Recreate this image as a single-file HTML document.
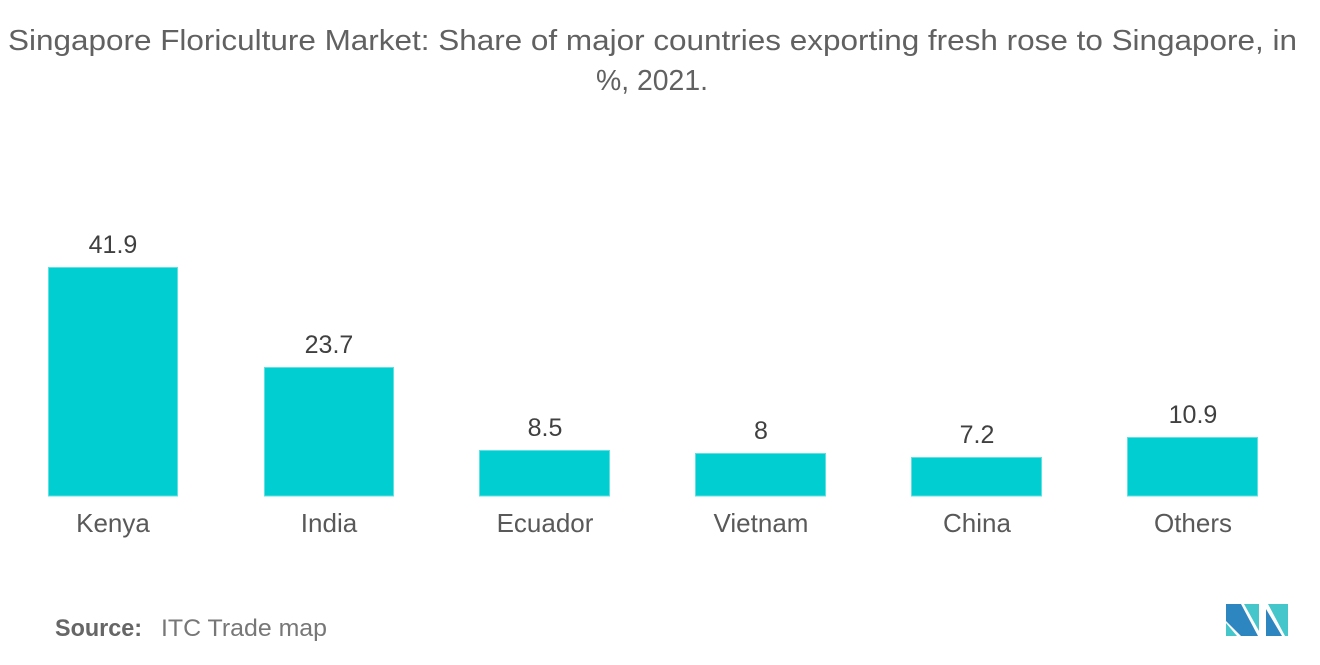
<!DOCTYPE html>
<html>
<head>
<meta charset="utf-8">
<style>
  html, body { margin: 0; padding: 0; background: #ffffff; }
  svg { display: block; }
  text { font-family: "Liberation Sans", Arial, sans-serif; }
</style>
</head>
<body>
<svg width="1320" height="665" viewBox="0 0 1320 665" xmlns="http://www.w3.org/2000/svg">
  <rect x="0" y="0" width="1320" height="665" fill="#ffffff"/>

  <!-- Title -->
  <text x="8" y="50" font-size="29" fill="#616161" textLength="1289" lengthAdjust="spacingAndGlyphs">Singapore Floriculture Market: Share of major countries exporting fresh rose to Singapore, in</text>
  <text x="596" y="90" font-size="29" fill="#616161" textLength="112" lengthAdjust="spacingAndGlyphs">%, 2021.</text>

  <!-- Bars -->
  <g fill="#00CED1" stroke="#5FE0E3" stroke-width="1">
    <rect x="48.5" y="267.5" width="129" height="228.5"/>
    <rect x="264.5" y="367.5" width="129" height="128.5"/>
    <rect x="479.5" y="450.5" width="130" height="45.5"/>
    <rect x="695.5" y="453.5" width="130" height="42.5"/>
    <rect x="911.5" y="457.5" width="130" height="38.5"/>
    <rect x="1127.5" y="437.5" width="130" height="58.5"/>
  </g>

  <!-- Value labels -->
  <g font-size="25" fill="#404040" text-anchor="middle">
    <text x="113" y="253">41.9</text>
    <text x="329" y="353">23.7</text>
    <text x="545" y="436">8.5</text>
    <text x="761" y="439">8</text>
    <text x="977" y="443">7.2</text>
    <text x="1193" y="423">10.9</text>
  </g>

  <!-- Category labels -->
  <g font-size="26" fill="#595959" text-anchor="middle">
    <text x="113" y="532">Kenya</text>
    <text x="329" y="532">India</text>
    <text x="545" y="532">Ecuador</text>
    <text x="761" y="532">Vietnam</text>
    <text x="977" y="532">China</text>
    <text x="1193" y="532">Others</text>
  </g>

  <!-- Source -->
  <text x="55" y="636" font-size="24" font-weight="bold" fill="#666666" textLength="87" lengthAdjust="spacingAndGlyphs">Source:</text>
  <text x="161" y="636" font-size="24" fill="#777777" textLength="166" lengthAdjust="spacingAndGlyphs">ITC Trade map</text>

  <!-- Logo -->
  <g>
    <polygon points="1226,623 1226,636 1237,636" fill="#45C6CB"/>
    <polygon points="1226,604 1241,604 1258,636 1241,636 1226,621" fill="#2E86C1"/>
    <polygon points="1244,604 1259,604 1259,631" fill="#45C6CB"/>
    <polygon points="1266,609 1266,636 1282,636" fill="#2E86C1"/>
    <polygon points="1268,604 1288,604 1288,636 1285,636" fill="#45C6CB"/>
  </g>
</svg>
</body>
</html>
